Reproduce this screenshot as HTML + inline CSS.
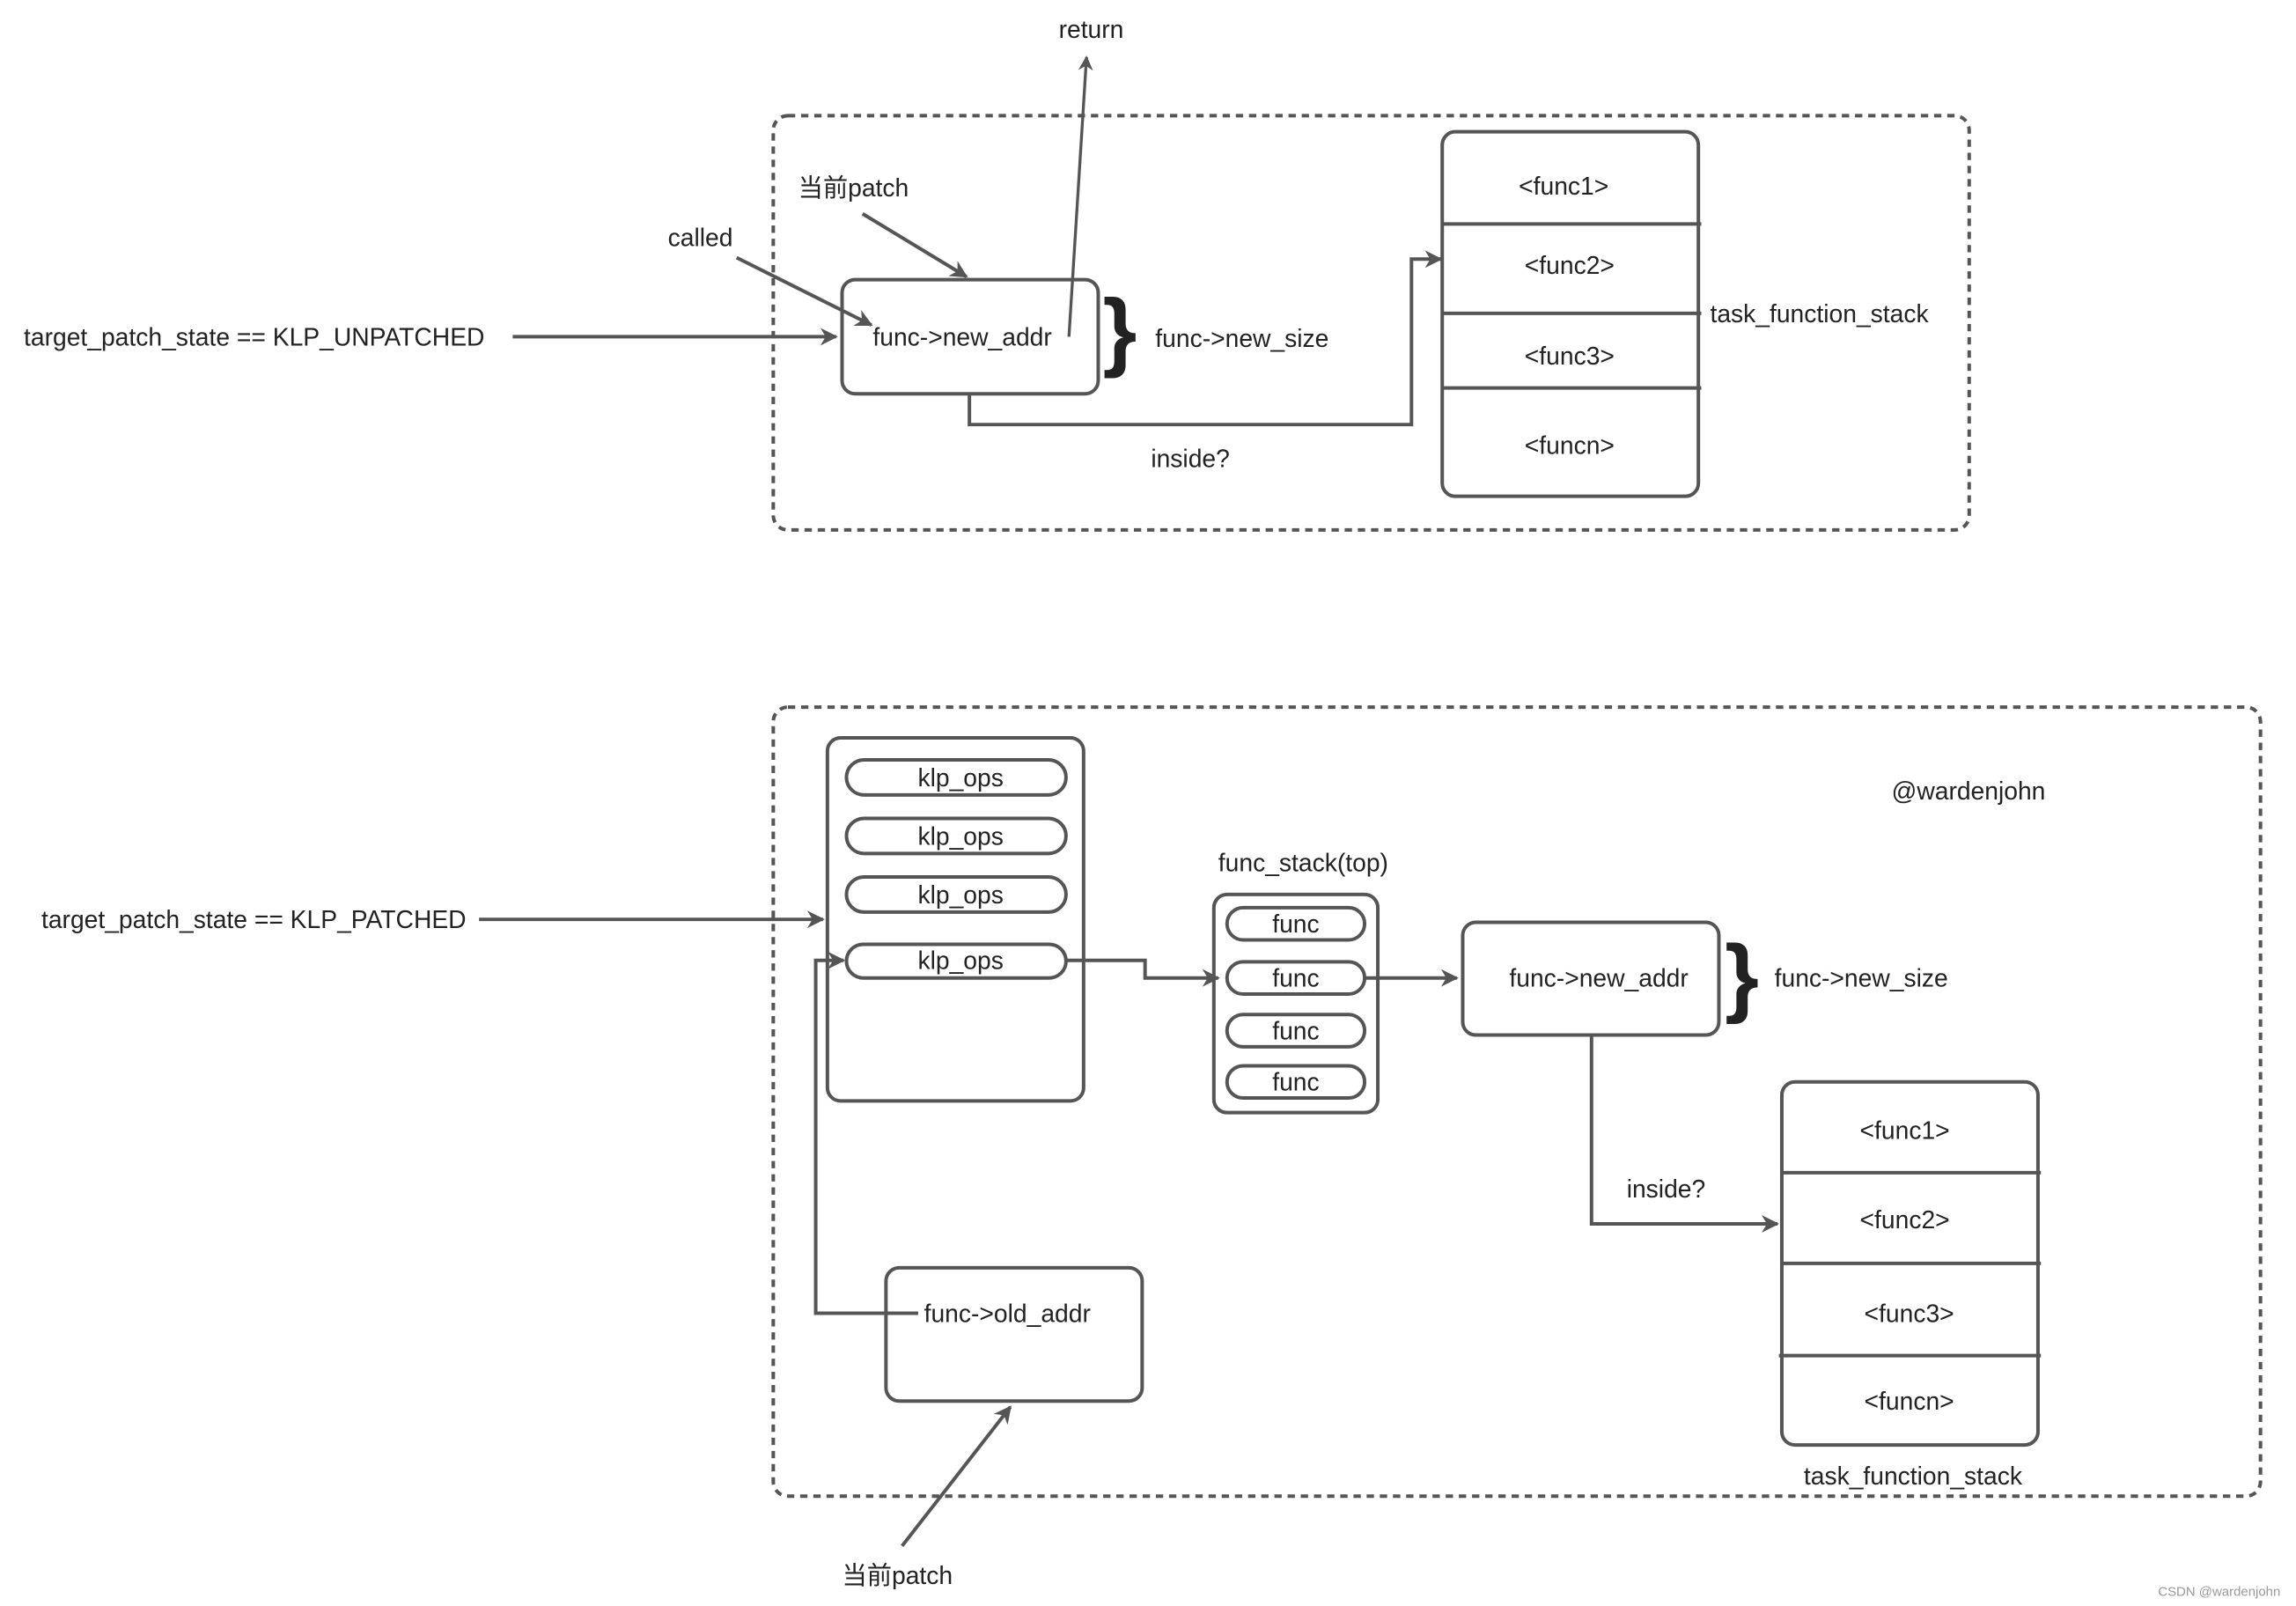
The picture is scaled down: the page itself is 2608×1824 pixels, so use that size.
<!DOCTYPE html>
<html><head><meta charset="utf-8"><style>
html,body{margin:0;padding:0;background:#fff;}
svg{display:block;}
text{font-family:"Liberation Sans","Noto Sans CJK SC",sans-serif;fill:#222;font-size:17px;}
</style></head><body>
<svg width="2608" height="1824" viewBox="0 0 1568 1097" xmlns="http://www.w3.org/2000/svg">
<defs>
<marker id="a" viewBox="0 0 10 10" refX="9" refY="5" markerWidth="5" markerHeight="5" orient="auto" markerUnits="strokeWidth">
<path d="M0,0 L10,5 L0,10 L3,5 z" fill="#555"/></marker>
</defs>
<g fill="none" stroke="#555" stroke-width="2.4">
<rect x="528" y="79" width="817" height="283" rx="10" stroke-dasharray="5,4"/>
<rect x="575" y="191" width="175" height="78" rx="9"/>
<rect x="985" y="90" width="175" height="249" rx="9"/>
<line x1="985" y1="153" x2="1162" y2="153"/>
<line x1="985" y1="214" x2="1162" y2="214"/>
<line x1="985" y1="265" x2="1162" y2="265"/>
<line x1="350" y1="230" x2="571" y2="230" marker-end="url(#a)"/>
<line x1="503" y1="176" x2="595" y2="222" marker-end="url(#a)"/>
<line x1="589" y1="146" x2="660" y2="189" marker-end="url(#a)"/>
<line x1="730" y1="230" x2="742" y2="39" marker-end="url(#a)" stroke-width="2"/>
<polyline points="662,269 662,290 964,290 964,177 984,177" marker-end="url(#a)"/>
<rect x="528" y="483" width="1016" height="539" rx="10" stroke-dasharray="5,4"/>
<rect x="565" y="504" width="175" height="248" rx="9"/>
<rect x="578" y="519" width="150" height="24" rx="12"/>
<rect x="578" y="559" width="150" height="24" rx="12"/>
<rect x="578" y="599" width="150" height="24" rx="12"/>
<rect x="578" y="645" width="150" height="23" rx="11.5"/>
<line x1="327" y1="628" x2="562" y2="628" marker-end="url(#a)"/>
<polyline points="728,656 782,656 782,668 832,668" marker-end="url(#a)"/>
<rect x="829" y="611" width="112" height="149" rx="9"/>
<rect x="838" y="620" width="94" height="22" rx="11"/>
<rect x="838" y="657" width="94" height="22" rx="11"/>
<rect x="838" y="693" width="94" height="22" rx="11"/>
<rect x="838" y="728" width="94" height="22" rx="11"/>
<line x1="932" y1="668" x2="995" y2="668" marker-end="url(#a)"/>
<rect x="999" y="630" width="175" height="77" rx="9"/>
<polyline points="1087,707 1087,836 1214,836" marker-end="url(#a)"/>
<rect x="1217" y="739" width="175" height="248" rx="9"/>
<line x1="1217" y1="801" x2="1394" y2="801"/>
<line x1="1217" y1="863" x2="1394" y2="863"/>
<line x1="1215" y1="926" x2="1394" y2="926"/>
<rect x="605" y="866" width="175" height="91" rx="9"/>
<polyline points="627,897 557,897 557,656 576,656" marker-end="url(#a)"/>
<line x1="616" y1="1056" x2="690" y2="961" marker-end="url(#a)"/>
</g>
<text x="16" y="236">target_patch_state == KLP_UNPATCHED</text>
<text x="456" y="168">called</text>
<text x="545" y="134">当前patch</text>
<text x="723" y="26">return</text>
<text x="596" y="236">func-&gt;new_addr</text>
<text x="753" y="246" style="font-size:60px;font-weight:bold;fill:#222">}</text>
<text x="789" y="237">func-&gt;new_size</text>
<text x="786" y="319">inside?</text>
<text x="1068" y="133" text-anchor="middle">&lt;func1&gt;</text>
<text x="1072" y="187" text-anchor="middle">&lt;func2&gt;</text>
<text x="1072" y="249" text-anchor="middle">&lt;func3&gt;</text>
<text x="1072" y="310" text-anchor="middle">&lt;funcn&gt;</text>
<text x="1168" y="220">task_function_stack</text>
<text x="28" y="634">target_patch_state == KLP_PATCHED</text>
<text x="656" y="537" text-anchor="middle">klp_ops</text>
<text x="656" y="577" text-anchor="middle">klp_ops</text>
<text x="656" y="617" text-anchor="middle">klp_ops</text>
<text x="656" y="662" text-anchor="middle">klp_ops</text>
<text x="832" y="595">func_stack(top)</text>
<text x="885" y="637" text-anchor="middle">func</text>
<text x="885" y="674" text-anchor="middle">func</text>
<text x="885" y="710" text-anchor="middle">func</text>
<text x="885" y="745" text-anchor="middle">func</text>
<text x="1092" y="674" text-anchor="middle">func-&gt;new_addr</text>
<text x="1178" y="687" style="font-size:60px;font-weight:bold;fill:#222">}</text>
<text x="1212" y="674">func-&gt;new_size</text>
<text x="1111" y="818">inside?</text>
<text x="1301" y="778" text-anchor="middle">&lt;func1&gt;</text>
<text x="1301" y="839" text-anchor="middle">&lt;func2&gt;</text>
<text x="1304" y="903" text-anchor="middle">&lt;func3&gt;</text>
<text x="1304" y="963" text-anchor="middle">&lt;funcn&gt;</text>
<text x="1232" y="1014">task_function_stack</text>
<text x="1292" y="546">@wardenjohn</text>
<text x="631" y="903">func-&gt;old_addr</text>
<text x="575" y="1082">当前patch</text>
<text x="1474" y="1090" style="font-size:9px;fill:#999">CSDN @wardenjohn</text>
</svg>
</body></html>
